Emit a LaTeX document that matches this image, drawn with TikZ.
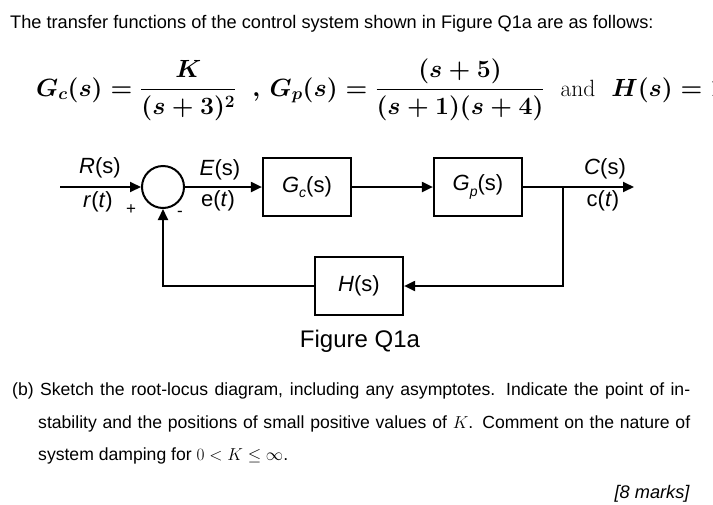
\documentclass[tikz,border=0pt]{standalone}
\usepackage{fontspec}
\usepackage{amsmath}
\newfontfamily\arial{Liberation Sans}
\usetikzlibrary{arrows.meta}
\newcommand{\mysub}[1]{\raisebox{-0.25em}{\fontsize{14}{16}\selectfont #1}}
\begin{document}
\begin{tikzpicture}[x=1pt,y=-1pt,
  blk/.style={draw,line width=2.2pt,minimum width=88pt,minimum height=58pt,inner sep=0pt,font=\arial\fontsize{22}{26}\selectfont},
  wire/.style={line width=2pt},
  arr/.style={wire,-{Triangle[length=11pt,width=10pt]}},
  lab/.style={font=\arial\fontsize{22}{26}\selectfont,inner sep=0pt},
  txt/.style={font=\arial\fontsize{18.2}{22}\selectfont,inner sep=0pt,anchor=base west}]
\useasboundingbox (0,0) rectangle (713,504);
\node[txt] (t1) at (10,28) {The transfer functions of the control system shown in Figure Q1a are as follows:};
\node[inner sep=0pt,anchor=base west,font=\fontsize{23.5}{28}\selectfont\boldmath] (eq) at (36,96)
 {$G_c(s)=\dfrac{K}{(s+3)^2}\;\;,\,G_p(s)=\dfrac{(s+5)}{(s+1)(s+4)}\;\;\text{and}\;\;H(s)=1.$};
% block diagram
\coordinate (in) at (60,187);
\node[draw,circle,line width=2pt,minimum size=42pt,inner sep=0pt] (sum) at (163,187) {};
\node[blk] (gc) at (307,187) {\textit{G}\mysub{\textit{c}}(s)};
\node[blk] (gp) at (478,187) {\textit{G}\mysub{\textit{p}}(s)};
\node[blk] (h) at (359,286) {\textit{H}(s)};
\coordinate (out) at (634,187);
\coordinate (br) at (563,187);
\draw[arr] (in) -- (sum);
\draw[arr] (sum) -- (gc);
\draw[arr] (gc) -- (gp);
\draw[arr] (gp) -- (out);
\draw[arr] (br) |- (h);
\draw[arr] (h) -| (sum);
\node[lab] (R) at (100,168) {\textit{R}(s)};
\node[lab] (r) at (98,202) {\textit{r}(\textit{t})};
\node[lab] (E) at (220,170) {\textit{E}(s)};
\node[lab] (e) at (218,201) {e(\textit{t})};
\node[lab] (C) at (605,169) {\textit{C}(s)};
\node[lab] (c) at (603,201) {c(\textit{t})};
\node[lab,font=\arial\fontsize{17}{20}\selectfont] (plus) at (131,210) {+};
\node[lab,font=\arial\fontsize{17}{20}\selectfont] (minus) at (180,214) {-};
\node[lab,font=\arial\fontsize{24}{28}\selectfont] (fig) at (360,341) {Figure Q1a};
% question
\node[txt,anchor=north west,text width=678pt,align=justify] (q) at (12,383)
 {\fontsize{17.6}{32.5}\selectfont\hangindent=26pt\hangafter=1
 (b) Sketch the root-locus diagram, including any asymptotes. Indicate the point of instability and the positions of small positive values of $K$. Comment on the nature of system damping for $0<K\le\infty$.\par};
\node[txt,anchor=base east] (marks) at (690,498) {\textit{[8 marks]}};
\end{tikzpicture}
\end{document}
